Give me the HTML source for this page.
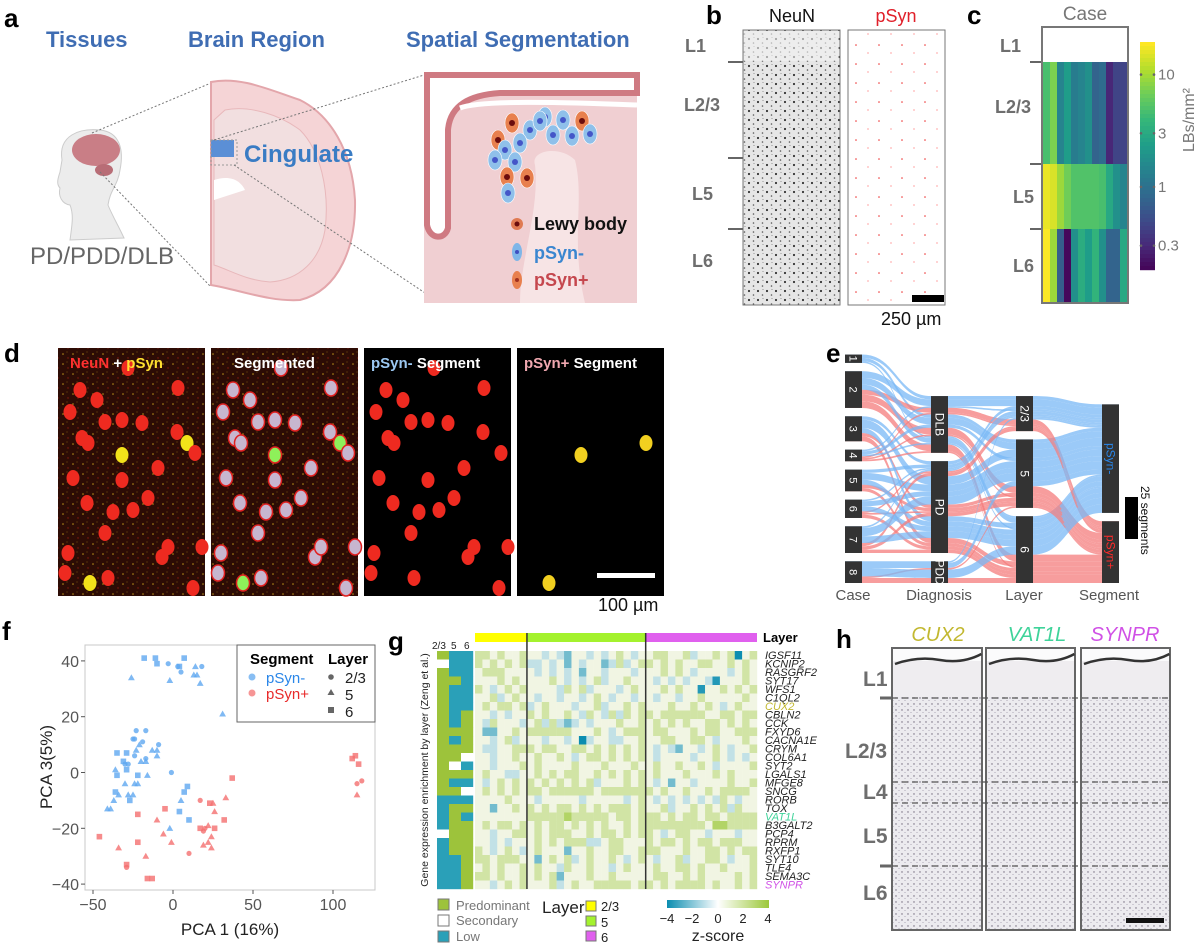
<!DOCTYPE html>
<html><head><meta charset="utf-8"><title>Figure</title>
<style>
html,body{margin:0;padding:0;background:#fff;}
svg{display:block;font-family:"Liberation Sans",sans-serif;}
.pl{font-weight:bold;font-size:26px;fill:#000;}
.lay{font-weight:bold;font-size:18px;fill:#6e6e6e;}
.layh{font-weight:bold;font-size:21px;fill:#6e6e6e;}
</style></head>
<body>
<svg id="fig" width="1200" height="945" viewBox="0 0 1200 945" xmlns="http://www.w3.org/2000/svg">
<defs>
 <pattern id="neun" width="9" height="9" patternUnits="userSpaceOnUse">
  <rect width="9" height="9" fill="#e6e6e6"/>
  <circle cx="2" cy="3" r="1.1" fill="#333"/><circle cx="6.5" cy="7" r="0.8" fill="#555"/><circle cx="7" cy="1.5" r="0.5" fill="#777"/>
 </pattern>
 <pattern id="psyn" width="23" height="19" patternUnits="userSpaceOnUse">
  <rect width="23" height="19" fill="#fff"/><circle cx="5" cy="7" r="0.8" fill="#e33"/><circle cx="17" cy="15" r="0.6" fill="#f66"/>
 </pattern>
 <pattern id="tissueh" width="6" height="6" patternUnits="userSpaceOnUse">
  <rect width="6" height="6" fill="#ecebef"/><circle cx="2" cy="2" r="0.7" fill="#6d6678"/><circle cx="5" cy="4.5" r="0.5" fill="#9a92a4"/>
 </pattern>
 <pattern id="fluor" width="10" height="10" patternUnits="userSpaceOnUse">
  <rect width="10" height="10" fill="#2c0c05"/><circle cx="3" cy="4" r="0.8" fill="#b8921a"/><circle cx="8" cy="8" r="0.7" fill="#8a1a10"/><circle cx="7" cy="2" r="0.4" fill="#d8b020"/>
 </pattern>
</defs>

<!-- Panel a -->
<g>
 <text class="pl" x="4" y="27">a</text>
 <text x="46" y="47" font-size="22" font-weight="bold" fill="#3f6db3">Tissues</text>
 <text x="188" y="47" font-size="22" font-weight="bold" fill="#3f6db3">Brain Region</text>
 <text x="406" y="47" font-size="22" font-weight="bold" fill="#3f6db3">Spatial Segmentation</text>
 <g>
  <path d="M62,160 C58,135 80,128 100,130 C120,132 124,150 120,170 C118,185 110,190 108,205 C112,215 118,225 124,238 L70,240 C72,225 74,215 70,205 C62,204 58,196 60,188 C56,184 58,178 60,172 Z" fill="#ececec" stroke="#ccc"/>
  <ellipse cx="96" cy="150" rx="24" ry="16" fill="#c97e86"/>
  <ellipse cx="104" cy="170" rx="9" ry="6" fill="#b86d76"/>
 </g>
 <text x="30" y="264" font-size="24" fill="#666">PD/PDD/DLB</text>
 <line x1="92" y1="133" x2="211" y2="83" stroke="#777" stroke-dasharray="2,2"/>
 <line x1="100" y1="172" x2="211" y2="287" stroke="#777" stroke-dasharray="2,2"/>
 <g>
  <path d="M211,82 C240,76 270,90 300,100 C330,115 352,150 355,200 C356,245 340,290 300,300 C270,302 240,290 211,285 Z" fill="#f5d4d6" stroke="#e3a6ab" stroke-width="2"/>
  <path d="M225,110 C250,105 280,115 300,130 C320,150 330,190 325,230 C320,260 300,280 270,282 C245,280 230,270 214,265 L214,120 Z" fill="#f2dfe0" stroke="#e8b8bb"/>
  <path d="M214,180 C230,175 240,180 245,190 L214,200 Z" fill="#fff"/>
  <rect x="211" y="140" width="23" height="17" fill="#5b8fd6"/>
  <rect x="211" y="140" width="26" height="25" fill="none" stroke="#999" stroke-dasharray="2,2"/>
 </g>
 <text x="244" y="162" font-size="24" font-weight="bold" fill="#3a7cc4">Cingulate</text>
 <line x1="214" y1="140" x2="424" y2="75" stroke="#777" stroke-dasharray="2,2"/>
 <line x1="234" y1="165" x2="440" y2="303" stroke="#777" stroke-dasharray="2,2"/>
 <g>
  <rect x="424" y="75" width="213" height="228" fill="#f0cfd2"/>
  <path d="M427,75 L427,225 C430,240 445,240 448,228 L448,130 C450,105 470,95 500,93 L637,93 L637,75 Z" fill="#fff" stroke="#cf7a82" stroke-width="6"/>
  <path d="M460,108 C480,100 560,102 637,105" stroke="#fff" stroke-width="5" fill="none"/>
  <path d="M535,165 C530,150 560,145 575,160 C585,200 570,240 585,303 L520,303 C520,260 540,210 535,165 Z" fill="#f7e4e5"/>
  <g id="cells"></g>
  <circle cx="517" cy="224" r="6" fill="#e07a52"/><circle cx="517" cy="224" r="2.5" fill="#6b0d0d"/>
  <ellipse cx="517" cy="252" rx="5" ry="9" fill="#7fb6e8"/><circle cx="517" cy="252" r="2" fill="#3f4fc0"/>
  <ellipse cx="517" cy="280" rx="5" ry="9" fill="#e8804e"/><circle cx="517" cy="280" r="2" fill="#a03020"/>
 </g>
 <text x="534" y="230" font-size="18" font-weight="bold" fill="#111">Lewy body</text>
 <text x="534" y="259" font-size="18" font-weight="bold" fill="#3a86d0">pSyn-</text>
 <text x="534" y="286" font-size="18" font-weight="bold" fill="#c5474e">pSyn+</text>
</g>

<!-- Panel b -->
<g>
 <text class="pl" x="706" y="24">b</text>
 <text x="792" y="22" font-size="18" text-anchor="middle" fill="#111">NeuN</text>
 <text x="896" y="22" font-size="18" text-anchor="middle" fill="#e0202a">pSyn</text>
 <rect x="743" y="30" width="97" height="275" fill="url(#neun)" stroke="#777"/>
 <rect x="744" y="31" width="95" height="30" fill="#f2f2f2" opacity="0.6"/>
 <rect x="848" y="30" width="97" height="275" fill="url(#psyn)" stroke="#777"/>
 <rect x="912" y="295" width="32" height="7" fill="#000"/>
 <text x="881" y="325" font-size="18" fill="#111">250 µm</text>
 <text class="lay" x="685" y="52">L1</text>
 <text class="lay" x="684" y="111">L2/3</text>
 <text class="lay" x="692" y="200">L5</text>
 <text class="lay" x="692" y="267">L6</text>
 <g stroke="#666" stroke-width="2"><line x1="728" y1="62" x2="743" y2="62"/><line x1="728" y1="158" x2="743" y2="158"/><line x1="728" y1="229" x2="743" y2="229"/></g>
</g>

<!-- Panel c -->
<g>
 <text class="pl" x="967" y="24">c</text>
 <text x="1085" y="20" font-size="19" text-anchor="middle" fill="#777">Case</text>
 <text class="lay" x="1000" y="52">L1</text>
 <text class="lay" x="995" y="113">L2/3</text>
 <text class="lay" x="1013" y="203">L5</text>
 <text class="lay" x="1013" y="272">L6</text>
 <g stroke="#666" stroke-width="2"><line x1="1030" y1="62" x2="1042" y2="62"/><line x1="1030" y1="164" x2="1042" y2="164"/><line x1="1030" y1="229" x2="1042" y2="229"/></g>
 <g id="cHeat"></g>
 <rect x="1042" y="27" width="86" height="276" fill="none" stroke="#777" stroke-width="2"/>
 <g id="cBar"></g>
 <text transform="translate(1194,120) rotate(-90)" font-size="16" fill="#777" text-anchor="middle">LBs/mm²</text>
</g>

<!-- Panel d -->
<g>
 <text class="pl" x="4" y="362">d</text>
 <g id="dImgs"></g>
 <text x="70" y="368" font-size="15" font-weight="bold"><tspan fill="#ff3030">NeuN</tspan><tspan fill="#fff"> + </tspan><tspan fill="#ffe030">pSyn</tspan></text>
 <text x="234" y="368" font-size="15" font-weight="bold" fill="#fff">Segmented</text>
 <text x="371" y="368" font-size="15" font-weight="bold"><tspan fill="#9cc8f2">pSyn-</tspan><tspan fill="#fff"> Segment</tspan></text>
 <text x="524" y="368" font-size="15" font-weight="bold"><tspan fill="#f0a8b0">pSyn+</tspan><tspan fill="#fff"> Segment</tspan></text>
 <rect x="597" y="573" width="58" height="5" fill="#fff"/>
 <text x="598" y="611" font-size="18" fill="#111">100 µm</text>
</g>

<!-- Panel e -->
<g>
 <text class="pl" x="826" y="362">e</text>
 <g id="eFlows"></g>
 <g id="eNodes"></g>
 <g font-size="15" fill="#555" text-anchor="middle">
  <text x="853" y="600">Case</text>
  <text x="939" y="600">Diagnosis</text>
  <text x="1024" y="600">Layer</text>
  <text x="1109" y="600">Segment</text>
 </g>
 <rect x="1125" y="497" width="13" height="42" fill="#000"/>
 <text transform="translate(1141,486) rotate(90)" font-size="12" fill="#111">25 segments</text>
</g>

<!-- Panel f -->
<g>
 <text class="pl" x="2" y="640">f</text>
 <rect x="85" y="645" width="290" height="245" fill="#fff" stroke="#c8c8c8"/>
 <g id="fAxes"></g>
 <g id="fPts"></g>
 <text x="230" y="935" font-size="17" fill="#222" text-anchor="middle">PCA 1 (16%)</text>
 <text transform="translate(52,767) rotate(-90)" font-size="17" fill="#222" text-anchor="middle">PCA 3(5%)</text>
 <g>
  <rect x="237" y="645" width="138" height="77" fill="#fff" stroke="#666"/>
  <text x="250" y="664" font-size="15" font-weight="bold">Segment</text>
  <text x="328" y="664" font-size="15" font-weight="bold">Layer</text>
  <circle cx="252" cy="677" r="3.5" fill="#6aaef0" opacity="0.8"/><text x="266" y="683" font-size="15" fill="#2a86e8">pSyn-</text>
  <circle cx="252" cy="693" r="3.5" fill="#f47a7a" opacity="0.8"/><text x="266" y="699" font-size="15" fill="#e82a2a">pSyn+</text>
  <circle cx="331" cy="677" r="2.8" fill="#666"/><text x="345" y="683" font-size="15" fill="#222">2/3</text>
  <path d="M331,689 l3.5,6 h-7 z" fill="#666"/><text x="345" y="700" font-size="15" fill="#222">5</text>
  <rect x="328" y="707" width="6" height="6" fill="#666"/><text x="345" y="717" font-size="15" fill="#222">6</text>
 </g>
</g>

<!-- Panel g -->
<g>
 <text class="pl" x="388" y="650">g</text>
 <text transform="translate(428,770) rotate(-90)" font-size="10.5" fill="#222" text-anchor="middle">Gene expression enrichment by layer (Zeng et al.)</text>
 <g font-size="10" fill="#222"><text x="432" y="649">2/3</text><text x="451" y="649">5</text><text x="464" y="649">6</text></g>
 <g id="gAnno"></g>
 <g id="gHeat"></g>
 <g id="gLabels"></g>
 <text x="763" y="642" font-size="13" font-weight="bold">Layer</text>
 <g font-size="13" fill="#777">
  <rect x="438" y="899" width="11" height="11" fill="#9dc33b" stroke="#777"/><text x="456" y="910">Predominant</text>
  <rect x="438" y="915" width="11" height="11" fill="#fff" stroke="#777"/><text x="456" y="925">Secondary</text>
  <rect x="438" y="931" width="11" height="11" fill="#2aa0b8" stroke="#777"/><text x="456" y="941">Low</text>
 </g>
 <g font-size="13" fill="#222">
  <text x="542" y="913" font-size="17">Layer</text>
  <rect x="586" y="901" width="10" height="10" fill="#ffff00" stroke="#777"/><text x="601" y="911">2/3</text>
  <rect x="586" y="916" width="10" height="10" fill="#a4f22e" stroke="#777"/><text x="601" y="927">5</text>
  <rect x="586" y="931" width="10" height="10" fill="#e060ee" stroke="#777"/><text x="601" y="942">6</text>
 </g>
 <defs><linearGradient id="zgrad" x1="0" x2="1"><stop offset="0" stop-color="#0b8db0"/><stop offset="0.5" stop-color="#ffffff"/><stop offset="1" stop-color="#9cc83a"/></linearGradient></defs>
 <rect x="667" y="900" width="102" height="8" fill="url(#zgrad)"/>
 <g font-size="13" fill="#222" text-anchor="middle"><text x="667" y="923">−4</text><text x="692" y="923">−2</text><text x="718" y="923">0</text><text x="743" y="923">2</text><text x="768" y="923">4</text></g>
 <text x="718" y="941" font-size="16" text-anchor="middle" fill="#222">z-score</text>
</g>

<!-- Panel h -->
<g>
 <text class="pl" x="836" y="648">h</text>
 <text x="938" y="641" font-size="20" font-style="italic" fill="#c2b830" text-anchor="middle">CUX2</text>
 <text x="1037" y="641" font-size="20" font-style="italic" fill="#3fd39a" text-anchor="middle">VAT1L</text>
 <text x="1125" y="641" font-size="20" font-style="italic" fill="#d050e6" text-anchor="middle">SYNPR</text>
 <g id="hImgs"></g>
 <g stroke="#555" stroke-width="1.3" stroke-dasharray="6,4"><line x1="892" y1="698" x2="1170" y2="698"/><line x1="892" y1="782" x2="1170" y2="782"/><line x1="892" y1="803" x2="1170" y2="803"/><line x1="892" y1="866" x2="1170" y2="866"/></g>
 <text class="layh" x="863" y="686">L1</text>
 <text class="layh" x="845" y="758">L2/3</text>
 <text class="layh" x="863" y="799">L4</text>
 <text class="layh" x="863" y="843">L5</text>
 <text class="layh" x="863" y="900">L6</text>
 <g stroke="#666" stroke-width="3"><line x1="880" y1="698" x2="892" y2="698"/><line x1="880" y1="866" x2="892" y2="866"/></g>
 <rect x="1126" y="918" width="38" height="5" fill="#111"/>
</g>
</svg>

<script>
const NS="http://www.w3.org/2000/svg";
function mk(tag,attrs,parent){const e=document.createElementNS(NS,tag);for(const k in attrs)e.setAttribute(k,attrs[k]);parent.appendChild(e);return e;}

/* ---------- Panel c data ---------- */
const cLayers=["L2/3","L5","L6"];
const cL23=[4.9,7.7,1.5,2.4,1.3,1.5,1.9,0.8,0.93,0.3,0.47,0.47];
const cL5=[17,15,9.7,7,5.3,5.3,5.3,5.3,4.9,3,1.9,1.5];
const cL6=[19,9.7,0.73,0.2,1.9,3.3,2.4,3.8,1.9,0.8,0.8,3];
const cTicks=[10,3,1,0.3];
const VIR=[[68,1,84],[72,40,120],[62,74,137],[49,104,142],[38,130,142],[31,158,137],[53,183,121],[109,205,89],[180,222,44],[253,231,37]];
function viridis(t){t=Math.max(0,Math.min(1,t));const p=t*(VIR.length-1),i=Math.min(VIR.length-2,Math.floor(p)),f=p-i;const a=VIR[i],b=VIR[i+1];return `rgb(${a.map((v,k)=>Math.round(v+(b[k]-v)*f)).join(",")})`;}
const cMinLog=-0.74,cMaxLog=1.29;
function cT(v){return (Math.log10(v)-cMinLog)/(cMaxLog-cMinLog);}
function cBarY(v){return 270-(Math.log10(v)-cMinLog)/(cMaxLog-cMinLog)*228;}
(function(){
 const g=document.getElementById("cHeat");
 const rows=[[cL23,62,164],[cL5,164,229],[cL6,229,303]];
 const x0=1043,w=84/12;
 rows.forEach((r,ri)=>{r[0].forEach((v,ci)=>{
  const rc=mk("rect",{x:x0+ci*w,y:r[1],width:w+0.3,height:r[2]-r[1],fill:viridis(cT(v))},g);
  
  
 });});
 const b=document.getElementById("cBar");
 for(let i=0;i<57;i++){mk("rect",{x:1140,y:42+i*4,width:15,height:4.2,fill:viridis(1-i/57)},b);}
 cTicks.forEach(t=>{const y=cBarY(t);
  mk("circle",{cx:1141,cy:y,r:1.3,fill:"#666"},b);mk("circle",{cx:1154,cy:y,r:1.3,fill:"#666"},b);
  const tx=mk("text",{x:1158,y:y+5,"font-size":15,fill:"#777"},b);tx.textContent=t;
  
  
 });
})();

/* ---------- Panel a cells ---------- */
(function(){
 const g=document.getElementById("cells");
 const cellsX=[512,530,545,553,563,572,582,590,498,505,520,495,515,507,527,508,540];
 const cellsY=[123,130,117,135,120,136,121,134,140,150,143,160,162,177,178,193,121];
 const cellsP=[1,0,0,0,0,0,1,0,1,0,0,0,0,1,1,0,0];
 cellsX.forEach((x,i)=>{
  const c=mk("ellipse",{cx:x,cy:cellsY[i],rx:7,ry:10,fill:cellsP[i]?"#e8804e":"#8fc0ea",stroke:"#fff","stroke-width":0.6},g);
  
  
  mk("circle",{cx:x,cy:cellsY[i],r:3,fill:cellsP[i]?"#6b0d0d":"#4456c8"},g);
 });
})();

/* ---------- Panel d images ---------- */
(function(){
 const g=document.getElementById("dImgs");
 const blobX=[22,39,12,47,64,84,24,30,119,64,129,137,64,55,75,29,10,104,110,32,7,47,144,90,120,100,70,135,15,50];
 const blobY=[42,52,64,74,72,75,90,95,84,107,95,105,132,164,162,155,205,209,199,235,225,185,199,150,40,120,20,240,130,230];
 const blobPos=[0,0,0,0,0,0,0,0,0,1,1,0,0,0,0,0,0,0,0,1,0,0,0,0,0,0,0,0,0,0];
 const imgX=[58,211,364,517];
 imgX.forEach((x0,k)=>{
  const r=mk("rect",{x:x0,y:348,width:147,height:248,fill:k<2?"url(#fluor)":"#000"},g);
  
  
  blobX.forEach((bx,i)=>{
   const p=blobPos[i];
   if(k===2&&p) return; if(k===3&&!p) return;
   let fill=p?"#f2e21a":"#ee2a20";
   if(k===1) fill=p?"#8ef05a":"#c7b6cf";
   if(k===3) fill="#f2d020";
   mk("ellipse",{cx:x0+bx,cy:348+blobY[i],rx:6.5,ry:8,fill:fill,stroke:k===1?"#e02020":"none","stroke-width":1.5},g);
  });
 });
})();

/* ---------- Panel e alluvial ---------- */
const eCases=["1","2","3","4","5","6","7","8"];
const eCaseDx=["DLB","DLB","PD","DLB","PD","PD","PD","PDD"];
const eDiag=["DLB","PD","PDD"];
const eLayers=["2/3","5","6"];
const eSegs=["pSyn-","pSyn+"];
// counts per case: [2/3-, 2/3+, 5-, 5+, 6-, 6+]
const eCounts=[[2,0,2,0,1,0],[4,3,4,4,3,4],[2,0,5,2,3,3],[1,1,2,1,1,1],[2,0,4,2,3,2],[1,1,3,1,3,2],[1,2,5,2,4,2],[1,0,3,1,5,3]];
(function(){
 const k=1.67,gap=8.3,bottom=583,W=17;
 const axX=[845,931,1016,1102];
 const flows=[];
 eCounts.forEach((cs,ci)=>cs.forEach((n,j)=>{if(n>0)flows.push({n:n,key:[ci,eDiag.indexOf(eCaseDx[ci]),Math.floor(j/2),j%2]});}));
 const nodeLists=[eCases,eDiag,eLayers,eSegs];
 const nodePos=[];const pos=flows.map(()=>[0,0,0,0]);
 nodeLists.forEach((list,a)=>{
  const tot=list.map((_,i)=>flows.filter(f=>f.key[a]===i).reduce((s,f)=>s+f.n,0));
  const total=tot.reduce((s,v)=>s+v,0)*k+gap*(list.length-1);
  let y=bottom-total;const np=[];
  list.forEach((nm,i)=>{
   np.push([y,y+tot[i]*k]);
   const idx=flows.map((f,fi)=>fi).filter(fi=>flows[fi].key[a]===i);
   const nb=a<3?a+1:a-1;
   idx.sort((p,q)=>(flows[p].key[nb]-flows[q].key[nb])||(flows[p].key[3]-flows[q].key[3])||(flows[p].key[0]-flows[q].key[0]));
   let yy=y;idx.forEach(fi=>{pos[fi][a]=yy;yy+=flows[fi].n*k;});
   y+=tot[i]*k+gap;
  });
  nodePos.push(np);
 });
 const gf=document.getElementById("eFlows");
 flows.forEach((f,fi)=>{
  const h=f.n*k;let d="";
  for(let a=0;a<3;a++){
   const x1=axX[a]+W,x2=axX[a+1],y1=pos[fi][a],y2=pos[fi][a+1],mx=(x1+x2)/2;
   d+=`M${axX[a]},${y1} L${x1},${y1} C${mx},${y1} ${mx},${y2} ${x2},${y2} L${x2+W},${y2} L${x2+W},${y2+h} L${x2},${y2+h} C${mx},${y2+h} ${mx},${y1+h} ${x1},${y1+h} L${axX[a]},${y1+h} Z `;
  }
  const p=mk("path",{d:d,fill:f.key[3]?"#f47c7c":"#7ab8f5","fill-opacity":0.75},gf);
  
  
 });
 const gn=document.getElementById("eNodes");
 nodeLists.forEach((list,a)=>list.forEach((nm,i)=>{
  const [y1,y2]=nodePos[a][i];
  const r=mk("rect",{x:axX[a],y:y1,width:W,height:y2-y1,fill:"#333"},gn);
  
  
  const col=a===3?(i===0?"#2a86e8":"#ff2a2a"):"#fff";
  const t=mk("text",{transform:`translate(${axX[a]+W/2-4},${(y1+y2)/2}) rotate(90)`,"font-size":a===0?11:12,fill:col,"text-anchor":"middle"},gn);
  t.textContent=nm;
 }));
})();

/* ---------- Panel f PCA scatter ---------- */
const fNegX=[-18,-11,7,-10,4,-3,3,5,18,-26,-2,13,15,14,17,31,-17,-23,-24,-25,-19,-9,-17,-24,-1,-28,-30,-13,-10,-20,-21,-23,-36,-10,-17,-16,-30,-24,-22,-25,-28,-34,-37,-39,-41,5,-2,-35,-29,-29,-31,-35,-22,-27,9,7,4,10,-36];
const fNegY=[41,41,41,39,38,39,38,36,38,34,33,35,35,38,32,21,15,15,12,12,11,10,5,6,0,3,3,8,8,4,10,8,1,6,4,-1,-4,-4,-4,-8,-8,-8,-10,-13,-13,-10,-20,7,7,1,4,-1,-1,-10,-5,-7,-14,-17,-7];
const fNegL=[2,2,2,2,2,0,0,0,0,1,1,1,1,1,1,1,0,0,0,0,0,0,0,0,0,0,0,1,1,1,1,1,1,1,1,1,1,1,1,1,1,1,1,1,1,1,1,2,2,2,2,2,2,2,2,2,2,2,2];
const fPosX=[-46,-22,-5,-22,-16,-13,-29,23,26,17,32,37,112,114,116,17,19,20,10,-29,115,118,-10,-6,-1,-34,-17,25,26,33,22,19,22,24,24,115];
const fPosY=[-23,-15,-13,-25,-38,-38,-33,-11,-20,-20,-17,-2,5,6,3,-10,-21,-20,-29,-34,-4,-3,-17,-22,-25,-27,-30,-11,-14,-9,-19,-26,-25,-27,-23,-8];
const fPosL=[2,2,2,2,2,2,2,2,2,2,2,2,2,2,2,0,0,0,0,0,0,0,1,1,1,1,1,1,1,1,1,1,1,1,1,1];
const fXTicks=[-50,0,50,100];
const fYTicks=[40,20,0,-20,-40];
function fx(v){return 173+1.6*v;}
function fy(v){return 772.5-2.79*v;}
(function(){
 const ax=document.getElementById("fAxes");
 fXTicks.forEach(t=>{mk("line",{x1:fx(t),y1:890,x2:fx(t),y2:894,stroke:"#555"},ax);
  const tx=mk("text",{x:fx(t),y:910,"font-size":16,fill:"#555","text-anchor":"middle"},ax);tx.textContent=t<0?"−"+(-t):t;
  
  });
 fYTicks.forEach(t=>{mk("line",{x1:81,y1:fy(t),x2:85,y2:fy(t),stroke:"#555"},ax);
  const tx=mk("text",{x:79,y:fy(t)+6,"font-size":16,fill:"#555","text-anchor":"end"},ax);tx.textContent=t<0?"−"+(-t):t;
  
  });
 const g=document.getElementById("fPts");
 function pt(x,y,l,col){
  const cx=fx(x),cy=fy(y);let e;
  if(l===0)e=mk("circle",{cx:cx,cy:cy,r:2.6,fill:col,opacity:0.8},g);
  else if(l===1)e=mk("path",{d:`M${cx},${cy-3.4} l3.4,6 h-6.8 z`,fill:col,opacity:0.8},g);
  else e=mk("rect",{x:cx-2.8,y:cy-2.8,width:5.6,height:5.6,fill:col,opacity:0.8},g);
  
  
 }
 fNegX.forEach((x,i)=>pt(x,fNegY[i],fNegL[i],"#5fa8f0"));
 fPosX.forEach((x,i)=>pt(x,fPosY[i],fPosL[i],"#f46f6f"));
})();

/* ---------- Panel g heatmap ---------- */
const gGenes=["IGSF11","KCNIP2","RASGRF2","SYT17","WFS1","C1QL2","CUX2","CBLN2","CCK","FXYD6","CACNA1E","CRYM","COL6A1","SYT2","LGALS1","MFGE8","SNCG","RORB","TOX","VAT1L","B3GALT2","PCP4","RPRM","RXFP1","SYT10","TLE4","SEMA3C","SYNPR"];
const gAnnot=["PLL","SLL","PLL","PPL","PLL","PLL","PLL","PLP","PLP","PPP","PLP","PPP","PPS","PSL","PPP","PLL","PPS","LLL","LPP","LPL","LPP","SPP","LPP","LPP","LLP","LLP","LLP","LLP"];
const gGroups=[7,16,15];
// z-score digits: 4 = 0, each step = 1 SD
const gZ=[
"55454454434324434345434455445344545045","54545453343424344235345545454455445454","45554444343434244344434445454344443454","44454544445434345344544434343443144454",
"54345454444354534443454445454414454545","44534544344344345434434434434454444454","45455453454443445344545444544545434544","44343445454454354353545545555554455455",
"43544434535323434445445454545445545454","42244545555554445434555455444545544555","44345344434434034433445445544554344454","43344555455445545454545434324434543445",
"44344544544543455454545434444344543434","44344454544445444544454454454454344445","45443344545455445454545454445444545444","43454545454545453444545434244344445445",
"45454545545555554555555545445445455554","44445444344444344444345434343434354344","44244545454554545455545445344545453544","44444445555565555545545554545545545555",
"45455454545545454544545555555554665555","44344554545554454554545543455443444344","44343444545455533455444545545455455544","54345434544424454455445554445445545455",
"55455544245453454454345434453445543445","45454454544354454434544454455454454445","55454454545244454454444455445454444545","44345454445345445555545545455554544545"];
const gLabelCol={CUX2:"#c2b830",VAT1L:"#3fd39a",SYNPR:"#d050e6"};
(function(){
 const x0=475,x1=757,y0=651,y1=889,nC=gGroups.reduce((a,b)=>a+b,0);
 const cw=(x1-x0)/nC,rh=(y1-y0)/gGenes.length;
 function zc(v){v=v+0.3;const t=Math.min(1,Math.abs(v)/3);const e=v<0?[11,141,176]:[156,200,58];return `rgb(${[250,250,246].map((w,i)=>Math.round(w+(e[i]-w)*t)).join(",")})`;}
 const gh=document.getElementById("gHeat");
 gZ.forEach((row,ri)=>{for(let c=0;c<nC;c++){
  const d=parseInt(row.charAt(c)||"4");
  const r=mk("rect",{x:x0+c*cw,y:y0+ri*rh,width:cw+0.2,height:rh+0.2,fill:zc(d-4)},gh);
  
  
 }});
 const lc=["#ffff00","#a4f22e","#e060ee"];let cx=x0;
 gGroups.forEach((n,i)=>{const r=mk("rect",{x:cx,y:633,width:n*cw,height:9,fill:lc[i]},gh);
  
  
  if(i>0)mk("line",{x1:cx,y1:633,x2:cx,y2:889,stroke:"#333","stroke-width":1.5},gh);cx+=n*cw;});
 const ga=document.getElementById("gAnno");const ac={P:"#9dc33b",S:"#ffffff",L:"#2aa0b8"};const axs=[437,449,461];
 gAnnot.forEach((s,ri)=>{for(let j=0;j<3;j++){const r=mk("rect",{x:axs[j],y:y0+ri*rh,width:12.2,height:rh+0.2,fill:ac[s[j]]},ga);
  
  }});
 const gl=document.getElementById("gLabels");
 gGenes.forEach((gn,ri)=>{const t=mk("text",{x:765,y:y0+ri*rh+rh-0.5,"font-size":11,"font-style":"italic",fill:gLabelCol[gn]||"#222"},gl);t.textContent=gn;
  
  });
})();

/* ---------- Panel h images ---------- */
(function(){
 const g=document.getElementById("hImgs");
 const hx=[892,986,1081],hw=[90,89,89];
 hx.forEach((x,i)=>{
  const r=mk("rect",{x:x,y:648,width:hw[i],height:282,fill:"url(#tissueh)",stroke:"#666","stroke-width":2},g);
  
  
  mk("rect",{x:x+1,y:649,width:hw[i]-2,height:48,fill:"#efedf0"},g);
  mk("rect",{x:x+1,y:649,width:hw[i]-2,height:12,fill:"#fbfbfc"},g);
  mk("path",{d:`M${x+3},${664} q${hw[i]*0.25},-8 ${hw[i]*0.5},-4 t${hw[i]*0.46},-6`,stroke:"#333","stroke-width":2.5,fill:"none"},g);
 });
})();
</script>
</body></html>
